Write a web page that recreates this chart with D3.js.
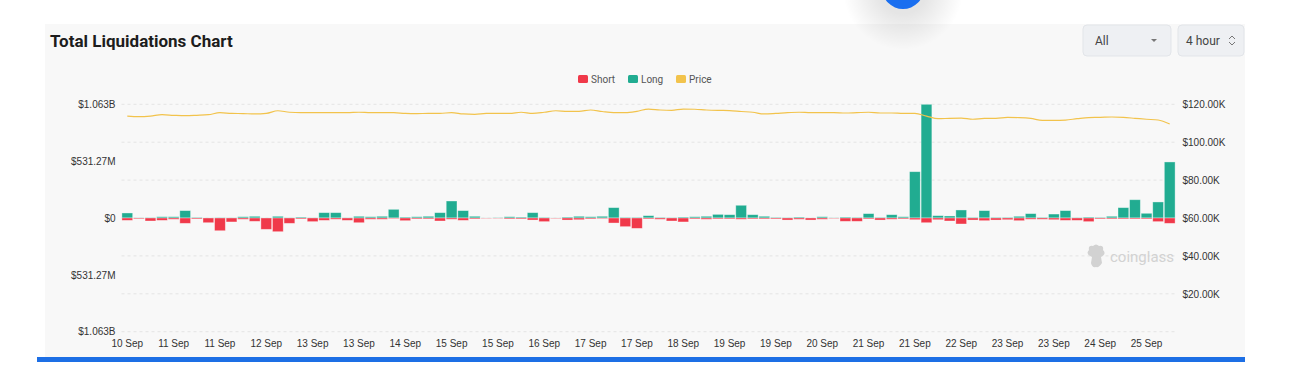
<!DOCTYPE html>
<html>
<head>
<meta charset="utf-8">
<script src="https://cdn.jsdelivr.net/npm/d3@7"></script>
<style>
  body { margin: 0; background: #fff; font-family: Roboto, "Noto Sans", sans-serif; }
</style>
</head>
<body>
<div id="chart"></div>
<script>
// x tick labels, one every 4 bars (4 hour candles)
const tickLabels = ["10 Sep","11 Sep","11 Sep","12 Sep","13 Sep","13 Sep","14 Sep","15 Sep","15 Sep",
	"16 Sep","17 Sep","17 Sep","18 Sep","19 Sep","19 Sep","20 Sep","21 Sep","21 Sep","22 Sep",
	"23 Sep","23 Sep","24 Sep","25 Sep"];

// long liquidations, $M
const longM = [47,2,3,12,12,69,6,1,3,2,12,16,1,16,2,9,2,50,50,2,16,12,16,
	81,9,12,16,50,159,69,16,1,3,12,9,50,6,1,9,16,12,16,97,6,6,22,
	6,3,9,12,16,34,31,119,31,16,6,3,9,1,12,2,9,6,41,6,31,12,433,
	1063,22,19,75,6,69,6,6,16,41,6,37,69,3,9,6,16,97,171,44,150,524];

// short liquidations, $M (drawn below zero)
const shortM = [22,8,28,22,12,50,9,44,119,37,12,31,106,128,50,9,34,22,12,22,44,12,12,
	6,25,9,9,28,12,22,9,3,3,9,9,19,34,4,19,16,9,6,47,81,97,9,
	12,28,37,9,12,9,9,12,9,9,9,19,12,19,12,4,31,31,9,19,12,9,16,
	44,16,28,56,19,25,19,16,25,12,12,16,22,22,34,9,9,9,9,9,34,50];

// BTC price, $K
const priceK = [113.8,113.5,113.8,114.5,114.2,114.0,114.2,114.5,115.6,115.2,115.1,114.9,115.2,116.6,115.8,115.6,115.6,115.6,115.6,115.6,115.8,115.6,115.6,
	115.6,115.2,115.1,115.2,115.2,115.6,114.9,114.7,115.2,115.2,115.2,115.8,115.2,115.8,116.6,116.3,116.3,117.0,116.2,115.6,115.6,116.3,117.5,
	117.0,116.8,117.5,117.4,117.0,116.8,116.7,116.2,115.8,114.9,115.2,115.6,115.8,115.6,115.6,115.6,115.4,115.6,115.8,115.4,115.4,115.2,115.2,
	113.8,112.4,112.6,112.7,112.1,112.6,112.6,113.1,113.0,112.6,111.5,111.5,111.7,112.4,113.0,113.1,113.3,113.1,112.6,112.1,111.7,109.6];

const leftTicks = [-1063, -531.27, 0, 531.27, 1063];
const leftLabels = ["$1.063B", "$531.27M", "$0", "$531.27M", "$1.063B"];
const rightTicks = [0, 20, 40, 60, 80, 100, 120];

const W = 1290, H = 373;
const plot = { left: 121.5, right: 1175.5, top: 104.3, bottom: 331.7 };
const cLong = "#21ac91", cShort = "#f0394a", cPrice = "#f2c34c";

const svg = d3.select("#chart")
	.append("svg")
		.attr("width", W)
		.attr("height", H)
		.attr("viewBox", [0, 0, W, H]);

// panel + bottom blue strip
svg.append("rect")
	.attr("x", 45).attr("y", 24).attr("width", 1200).attr("height", 333)
	.attr("fill", "#f8f8f8");
svg.append("rect")
	.attr("x", 37).attr("y", 357).attr("width", 1208).attr("height", 5)
	.attr("fill", "#1d6fe5");

// blue floating button cut off at the top, with its soft shadow
const grad = svg.append("defs").append("radialGradient").attr("id", "shade");
grad.append("stop").attr("offset", "40%").attr("stop-color", "rgba(0,0,0,0.10)");
grad.append("stop").attr("offset", "100%").attr("stop-color", "rgba(0,0,0,0)");
svg.append("circle").attr("cx", 903).attr("cy", -10).attr("r", 60).attr("fill", "url(#shade)");
svg.append("circle").attr("cx", 903).attr("cy", -12).attr("r", 21).attr("fill", "#1a6ff0");

// title
svg.append("text")
	.attr("x", 50).attr("y", 47)
	.style("font-size", "17px").style("font-weight", "700")
	.attr("fill", "#1d1d1d")
	.text("Total Liquidations Chart");

// dropdowns
svg.append("rect").attr("x", 1083).attr("y", 25).attr("width", 88).attr("height", 31).attr("rx", 4)
	.attr("fill", "#eef0f3").attr("stroke", "#e2e5e9");
svg.append("text").attr("x", 1095).attr("y", 45).style("font-size", "12px").attr("fill", "#444").text("All");
svg.append("path").attr("d", "M1151,39 L1157,39 L1154,42 Z").attr("fill", "#777");

svg.append("rect").attr("x", 1178).attr("y", 25).attr("width", 66).attr("height", 31).attr("rx", 4)
	.attr("fill", "#eef0f3").attr("stroke", "#e2e5e9");
svg.append("text").attr("x", 1186).attr("y", 45).style("font-size", "12px").attr("fill", "#444").text("4 hour");
svg.append("path").attr("d", "M1229,39 L1232,36 L1235,39 M1229,42 L1232,45 L1235,42")
	.attr("fill", "none").attr("stroke", "#777").attr("stroke-width", 1);

// legend
const legend = [["Short", cShort, 578], ["Long", cLong, 628], ["Price", cPrice, 676]];
const lg = svg.selectAll(".legend")
	.data(legend)
	.join("g")
	.attr("class", "legend")
	.attr("transform", d => `translate(${d[2]},75)`);
lg.append("rect").attr("width", 10).attr("height", 8).attr("rx", 1.5).attr("fill", d => d[1]);
lg.append("text").attr("x", 13).attr("y", 8).style("font-size", "10px").attr("fill", "#555").text(d => d[0]);

// scales
const x = d3.scaleBand()
	.domain(d3.range(longM.length))
	.range([plot.left, plot.right])
	.paddingInner(0.07)
	.paddingOuter(0.035);
const yL = d3.scaleLinear().domain([-1063, 1063]).range([plot.bottom, plot.top]);
const yR = d3.scaleLinear().domain([0, 120]).range([plot.bottom, plot.top]);

// dashed grid from the price axis
svg.selectAll(".grid")
	.data(rightTicks)
	.join("line")
	.attr("class", "grid")
	.attr("x1", plot.left).attr("x2", plot.right)
	.attr("y1", d => yR(d)).attr("y2", d => yR(d))
	.attr("stroke", "#e4e4e4")
	.attr("stroke-dasharray", "3,3");

// left axis labels
const axL = svg.append("g")
	.attr("transform", `translate(${plot.left},0)`)
	.call(d3.axisLeft(yL).tickValues(leftTicks).tickSize(0).tickPadding(6)
		.tickFormat((d, i) => leftLabels[i]));
axL.select(".domain").remove();
axL.selectAll("text").style("font-size", "10px").attr("fill", "#333");

// right axis labels (no $0)
const axR = svg.append("g")
	.attr("transform", `translate(${plot.right},0)`)
	.call(d3.axisRight(yR).tickValues(rightTicks.slice(1)).tickSize(0).tickPadding(7)
		.tickFormat(d => "$" + d3.format(".2f")(d) + "K"));
axR.select(".domain").remove();
axR.selectAll("text").style("font-size", "10px").attr("fill", "#333");

// x labels
const axX = svg.append("g")
	.attr("transform", `translate(0,${plot.bottom})`)
	.call(d3.axisBottom(x).tickValues(d3.range(0, longM.length, 4)).tickSize(0).tickPadding(8)
		.tickFormat(d => tickLabels[d / 4]));
axX.select(".domain").remove();
axX.selectAll("text").style("font-size", "10px").attr("fill", "#333");

// watermark
const wm = svg.append("g").attr("fill", "#d2d2d2");
wm.append("path")
	.attr("d", "M1089,250 Q1088,245 1093,246 Q1096,243 1099,246 Q1104,245 1103,250 Q1107,254 1101,257 L1102,263 Q1099,268 1096,267 Q1092,268 1091,263 L1092,257 Q1085,254 1089,250 Z");
wm.append("text").attr("x", 1110).attr("y", 262)
	.style("font-size", "15px")
	.text("coinglass");

// bars
svg.selectAll(".long")
	.data(longM)
	.join("rect")
	.attr("class", "long")
	.attr("x", (d, i) => x(i))
	.attr("y", d => yL(d))
	.attr("width", x.bandwidth())
	.attr("height", d => yL(0) - yL(d))
	.attr("fill", cLong)
	.attr("stroke", "rgba(255,255,255,0.45)")
	.attr("stroke-width", 0.8);

svg.selectAll(".short")
	.data(shortM)
	.join("rect")
	.attr("class", "short")
	.attr("x", (d, i) => x(i))
	.attr("y", yL(0))
	.attr("width", x.bandwidth())
	.attr("height", d => yL(-d) - yL(0))
	.attr("fill", cShort)
	.attr("stroke", "rgba(255,255,255,0.45)")
	.attr("stroke-width", 0.8);

// price line
const line = d3.line()
	.x((d, i) => x(i) + x.bandwidth() / 2)
	.y(d => yR(d))
	.curve(d3.curveMonotoneX);
svg.append("path")
	.datum(priceK)
	.attr("d", line)
	.attr("fill", "none")
	.attr("stroke", cPrice)
	.attr("stroke-width", 1.2);
</script>
</body>
</html>
